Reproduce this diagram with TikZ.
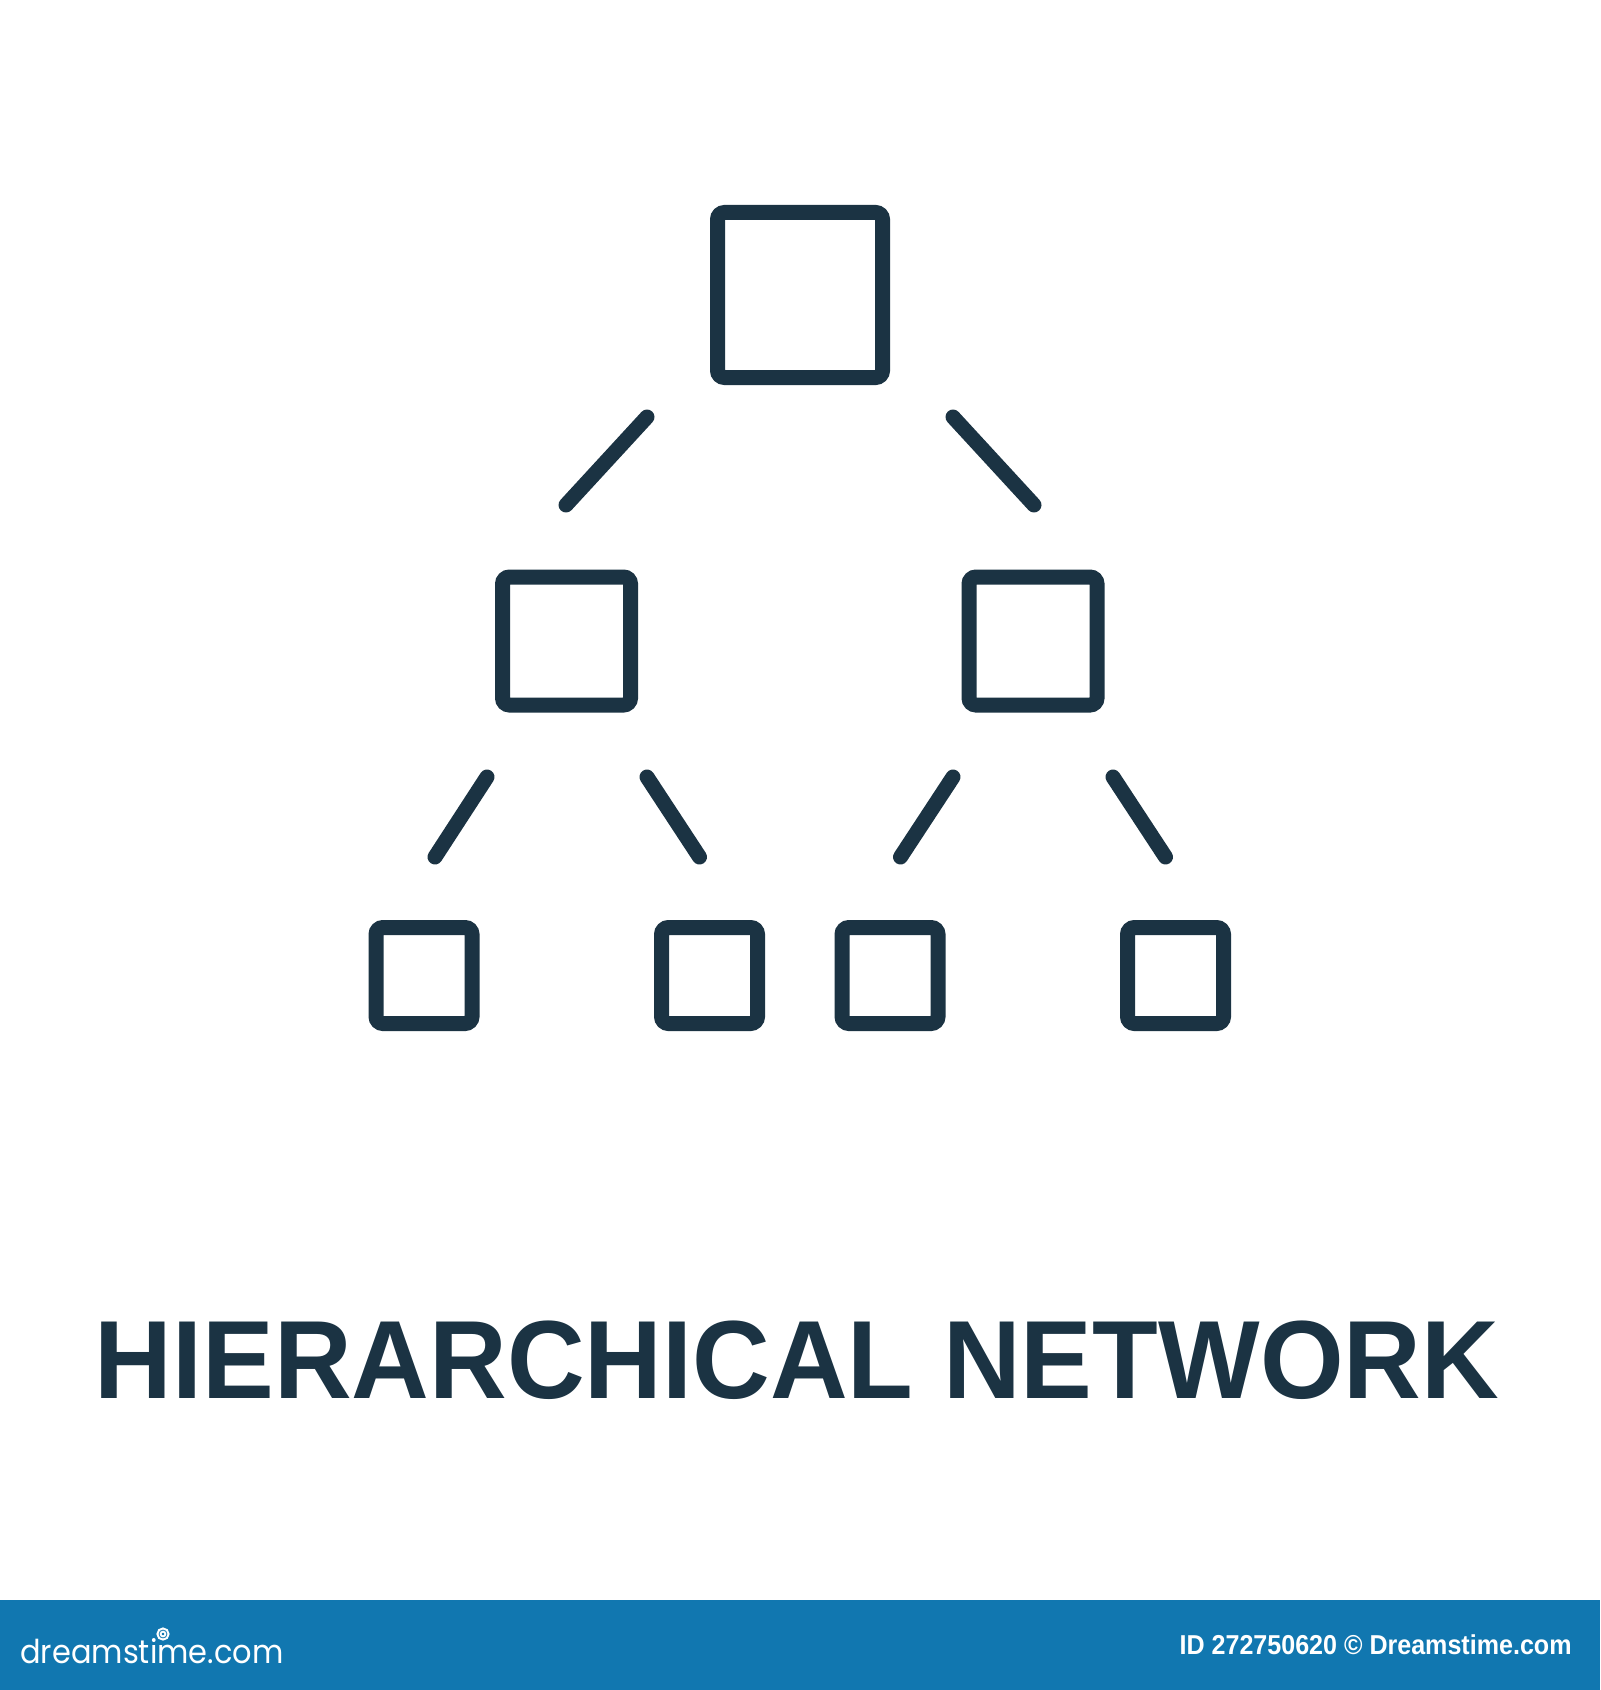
\documentclass[tikz,border=0pt]{standalone}
\usepackage{fontspec}
\setmainfont{Liberation Sans}
\newfontfamily\logofont{Poppins}
\definecolor{navy}{RGB}{27,51,67}
\definecolor{barblue}{RGB}{17,119,176}
\begin{document}
\begin{tikzpicture}[x=0.5pt,y=-0.5pt,
  box/.style={draw=navy, line width=7.5pt, rounded corners=3.5pt, inner sep=0pt, minimum size=#1},
  link/.style={draw=navy, line width=7.5pt, line cap=round}]
\useasboundingbox (0,0) rectangle (1600,1690);
\fill[white] (0,0) rectangle (1600,1690);
\fill[barblue] (0,1600) rectangle (1600,1690);
% boxes
\node[box=82.5pt] (top) at (800,295) {};
\node[box=64pt] (ml) at (566.5,641) {};
\node[box=64pt] (mr) at (1033,641) {};
\node[box=48pt] (b1) at (424,975.5) {};
\node[box=48pt] (b2) at (709.5,975.5) {};
\node[box=48pt] (b3) at (890,975.5) {};
\node[box=48pt] (b4) at (1175.5,975.5) {};
% connector ends
\coordinate (l1a) at (647,417);   \coordinate (l1b) at (566,505);
\coordinate (l2a) at (953,417);   \coordinate (l2b) at (1034,505);
\coordinate (l3a) at (487,777);   \coordinate (l3b) at (435,857);
\coordinate (l4a) at (647,777);   \coordinate (l4b) at (699.5,857);
\coordinate (l5a) at (953,777);   \coordinate (l5b) at (900.5,857);
\coordinate (l6a) at (1113,777);  \coordinate (l6b) at (1165.5,857);
\draw[link] (l1a) -- (l1b);
\draw[link] (l2a) -- (l2b);
\draw[link] (l3a) -- (l3b);
\draw[link] (l4a) -- (l4b);
\draw[link] (l5a) -- (l5b);
\draw[link] (l6a) -- (l6b);
% title
\node[anchor=base, inner sep=0pt, text=navy] (title) at (797,1398)
  {\resizebox{702pt}{38.8pt}{\bfseries HIERARCHICAL NETWORK}};
% footer
\node[anchor=base west, inner sep=0pt, text=white] (logo) at (20,1663)
  {\resizebox{131.5pt}{12.5pt}{\logofont dreamstime.com}};
\draw[white, line width=1pt] (163,1634) circle[radius=2.8pt];
\draw[white, line width=0.9pt] (163,1634) circle[radius=1.2pt];
\node[anchor=base east, inner sep=0pt, text=white] (id) at (1572,1654)
  {\resizebox{196pt}{9.9pt}{\bfseries ID 272750620 © Dreamstime.com}};
\end{tikzpicture}
\end{document}
